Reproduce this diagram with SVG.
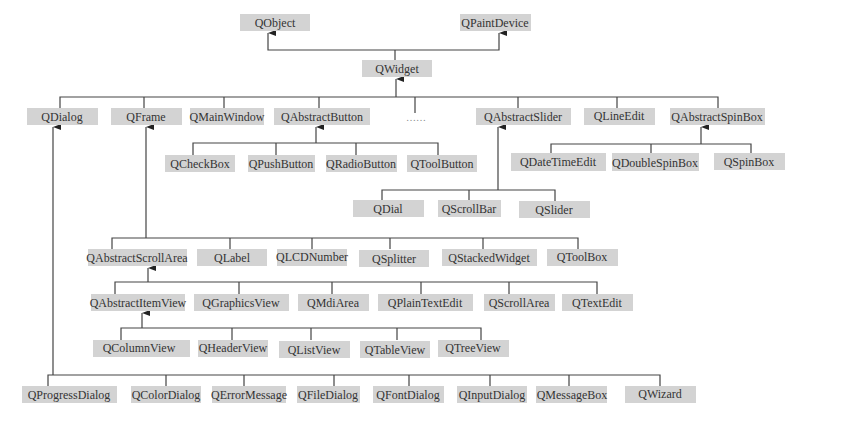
<svg xmlns="http://www.w3.org/2000/svg" width="857" height="441" viewBox="0 0 857 441">
<style>
.b rect{fill:#d3d3d3}
.b text{font-family:"Liberation Serif",serif;font-size:12px;fill:#333;text-anchor:middle}
.c path{stroke:#444;stroke-width:1.2;fill:none}
</style>
<defs><marker id="a" viewBox="0 0 6 8" refX="3" refY="0" markerWidth="6" markerHeight="8" markerUnits="userSpaceOnUse" orient="auto-start-reverse"><path d="M0,8L3,0L6,8z" fill="#222"/></marker></defs>
<rect width="857" height="441" fill="#fff"/>
<g class="c">
<path d="M268,33V50H499V33" marker-start="url(#a)" marker-end="url(#a)"/>
<path d="M395,50V60"/>
<path d="M396,79V97" marker-start="url(#a)"/>
<path d="M60,108V97H718V108M144,97V108M224,97V108M319,97V108M415,97V113M518,97V108M617,97V108"/>
<path d="M316,127V143" marker-start="url(#a)"/>
<path d="M193,155V143H438V155M276,143V155M356,143V155"/>
<path d="M701,127V144" marker-start="url(#a)"/>
<path d="M551,153V144H751V153M651,144V153"/>
<path d="M498,127V190" marker-start="url(#a)"/>
<path d="M382,200V190H555V201M469,190V200"/>
<path d="M146,127V238" marker-start="url(#a)"/>
<path d="M112,249V238H578V249M230,238V249M312,238V249M390,238V249M483,238V249"/>
<path d="M148,268V282" marker-start="url(#a)"/>
<path d="M115,294V282H597V294M239,282V294M332,282V294M421,282V294M509,282V294"/>
<path d="M142,313V328" marker-start="url(#a)"/>
<path d="M121,340V328H481V340M232,328V340M311,328V340M397,328V340"/>
<path d="M53,127V375" marker-start="url(#a)"/>
<path d="M48,386V375H660V386M166,375V386M244,375V386M334,375V386M409,375V386M490,375V386M569,375V386"/>
</g>
<g class="b" id="QObject"><rect x="240" y="14" width="70" height="17"/><text x="275" y="27">QObject</text></g>
<g class="b" id="QPaintDevice"><rect x="460" y="14" width="71" height="17"/><text x="495" y="27">QPaintDevice</text></g>
<g class="b" id="QWidget"><rect x="362" y="60" width="70" height="17"/><text x="397" y="73">QWidget</text></g>
<g class="b" id="QDialog"><rect x="27" y="108" width="71" height="17"/><text x="62" y="121">QDialog</text></g>
<g class="b" id="QFrame"><rect x="111" y="108" width="71" height="17"/><text x="146" y="121">QFrame</text></g>
<g class="b" id="QMainWindow"><rect x="190" y="108" width="74" height="17"/><text x="227" y="121">QMainWindow</text></g>
<g class="b" id="QAbstractButton"><rect x="274" y="108" width="96" height="17"/><text x="322" y="121">QAbstractButton</text></g>
<g id="more"><text x="416" y="121" style="font-family:'Liberation Serif',serif;font-size:10px;fill:#888;text-anchor:middle">……</text></g>
<g class="b" id="QAbstractSlider"><rect x="476" y="108" width="95" height="17"/><text x="523" y="121">QAbstractSlider</text></g>
<g class="b" id="QLineEdit"><rect x="584" y="108" width="71" height="17"/><text x="619" y="120">QLineEdit</text></g>
<g class="b" id="QAbstractSpinBox"><rect x="670" y="108" width="95" height="17"/><text x="717" y="121">QAbstractSpinBox</text></g>
<g class="b" id="QCheckBox"><rect x="165" y="155" width="70" height="17"/><text x="200" y="168">QCheckBox</text></g>
<g class="b" id="QPushButton"><rect x="248" y="155" width="67" height="17"/><text x="281" y="168">QPushButton</text></g>
<g class="b" id="QRadioButton"><rect x="326" y="155" width="71" height="17"/><text x="361" y="168">QRadioButton</text></g>
<g class="b" id="QToolButton"><rect x="407" y="155" width="70" height="17"/><text x="442" y="168">QToolButton</text></g>
<g class="b" id="QDateTimeEdit"><rect x="511" y="153" width="95" height="18"/><text x="558" y="166">QDateTimeEdit</text></g>
<g class="b" id="QDoubleSpinBox"><rect x="612" y="153" width="87" height="18"/><text x="655" y="167">QDoubleSpinBox</text></g>
<g class="b" id="QSpinBox"><rect x="714" y="153" width="71" height="17"/><text x="749" y="166">QSpinBox</text></g>
<g class="b" id="QDial"><rect x="353" y="200" width="71" height="17"/><text x="388" y="213">QDial</text></g>
<g class="b" id="QScrollBar"><rect x="438" y="200" width="63" height="17"/><text x="469" y="213">QScrollBar</text></g>
<g class="b" id="QSlider"><rect x="519" y="201" width="71" height="17"/><text x="554" y="214">QSlider</text></g>
<g class="b" id="QAbstractScrollArea"><rect x="88" y="249" width="99" height="17"/><text x="137" y="262">QAbstractScrollArea</text></g>
<g class="b" id="QLabel"><rect x="197" y="249" width="70" height="17"/><text x="232" y="262">QLabel</text></g>
<g class="b" id="QLCDNumber"><rect x="277" y="249" width="70" height="17"/><text x="312" y="261">QLCDNumber</text></g>
<g class="b" id="QSplitter"><rect x="359" y="250" width="70" height="17"/><text x="394" y="263">QSplitter</text></g>
<g class="b" id="QStackedWidget"><rect x="442" y="249" width="95" height="17"/><text x="489" y="262">QStackedWidget</text></g>
<g class="b" id="QToolBox"><rect x="547" y="249" width="71" height="17"/><text x="582" y="261">QToolBox</text></g>
<g class="b" id="QAbstractItemView"><rect x="91" y="294" width="94" height="17"/><text x="138" y="307">QAbstractItemView</text></g>
<g class="b" id="QGraphicsView"><rect x="194" y="294" width="95" height="17"/><text x="241" y="307">QGraphicsView</text></g>
<g class="b" id="QMdiArea"><rect x="298" y="294" width="71" height="17"/><text x="333" y="307">QMdiArea</text></g>
<g class="b" id="QPlainTextEdit"><rect x="378" y="294" width="95" height="17"/><text x="425" y="307">QPlainTextEdit</text></g>
<g class="b" id="QScrollArea"><rect x="484" y="294" width="71" height="17"/><text x="519" y="307">QScrollArea</text></g>
<g class="b" id="QTextEdit"><rect x="562" y="294" width="71" height="17"/><text x="597" y="307">QTextEdit</text></g>
<g class="b" id="QColumnView"><rect x="93" y="340" width="97" height="17"/><text x="139" y="352">QColumnView</text></g>
<g class="b" id="QHeaderView"><rect x="198" y="340" width="70" height="17"/><text x="233" y="352">QHeaderView</text></g>
<g class="b" id="QListView"><rect x="279" y="341" width="71" height="17"/><text x="314" y="354">QListView</text></g>
<g class="b" id="QTableView"><rect x="360" y="341" width="70" height="17"/><text x="395" y="354">QTableView</text></g>
<g class="b" id="QTreeView"><rect x="438" y="340" width="71" height="17"/><text x="473" y="352">QTreeView</text></g>
<g class="b" id="QProgressDialog"><rect x="22" y="386" width="95" height="17"/><text x="69" y="399">QProgressDialog</text></g>
<g class="b" id="QColorDialog"><rect x="131" y="386" width="70" height="17"/><text x="166" y="399">QColorDialog</text></g>
<g class="b" id="QErrorMessage"><rect x="212" y="386" width="74" height="17"/><text x="249" y="399">QErrorMessage</text></g>
<g class="b" id="QFileDialog"><rect x="297" y="386" width="63" height="17"/><text x="328" y="399">QFileDialog</text></g>
<g class="b" id="QFontDialog"><rect x="373" y="386" width="71" height="17"/><text x="408" y="399">QFontDialog</text></g>
<g class="b" id="QInputDialog"><rect x="457" y="386" width="70" height="17"/><text x="492" y="399">QInputDialog</text></g>
<g class="b" id="QMessageBox"><rect x="536" y="386" width="71" height="17"/><text x="572" y="399">QMessageBox</text></g>
<g class="b" id="QWizard"><rect x="625" y="386" width="71" height="17"/><text x="660" y="398">QWizard</text></g>
</svg>
